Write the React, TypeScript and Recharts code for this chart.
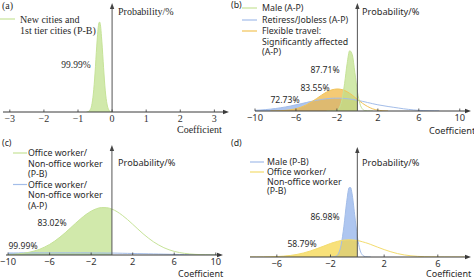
import React from "react";
import { ComposedChart, Area, Line, XAxis, YAxis, ReferenceLine } from "recharts";

// ---------- (a) New cities and 1st tier cities (P-B) ----------
const aX = [-0.75, -0.7, -0.65, -0.6, -0.55, -0.5, -0.45, -0.4, -0.37, -0.35, -0.3, -0.25, -0.2, -0.15, -0.1, -0.05, 0];
const aCities = [0, 0.004, 0.017, 0.058, 0.167, 0.36, 0.61, 0.8, 0.833, 0.82, 0.65, 0.41, 0.196, 0.074, 0.022, 0.005, 0.001];
const aTicks = [-3, -2, -1, 0, 1, 2, 3];

// ---------- (b) A-P curves ----------
const bX = [-10, -9.5, -9, -8.5, -8, -7.5, -7, -6.5, -6, -5.5, -5, -4.5, -4, -3.5, -3, -2.5,
  -2.25, -2, -1.75, -1.5, -1.25, -1, -0.75, -0.5, -0.25, 0, 0.25, 0.5, 0.75, 1, 1.25, 1.5,
  2, 2.5, 3, 3.5, 4, 4.5, 5, 5.5, 6, 6.5, 7, 7.5, 8];
const bMale = [null, null, null, null, null, null, null, null, null, null, null, null, null, null, 0, 0.0002,
  0.0013, 0.0078, 0.034, 0.108, 0.256, 0.443, 0.563, 0.526, 0.361, 0.182, 0.067, 0.018, 0.0036, 0.0005, 0, 0,
  null, null, null, null, null, null, null, null, null, null, null, null, null];
const bRetired = [0.0064, 0.0091, 0.0127, 0.0173, 0.023, 0.03, 0.038, 0.047, 0.058, 0.068, 0.079, 0.09, 0.1, 0.108, 0.115, 0.119,
  0.12, 0.12, 0.12, 0.119, 0.117, 0.115, 0.112, 0.108, 0.104, 0.1, 0.095, 0.09, 0.085, 0.079, 0.074, 0.068,
  0.058, 0.05, 0.042, 0.035, 0.028, 0.021, 0.015, 0.01, 0.006, 0.004, 0.0025, 0.0015, 0.001];
const bFlexible = [null, null, null, 0.0005, 0.0013, 0.0029, 0.006, 0.0117, 0.021, 0.036, 0.057, 0.084, 0.115, 0.148, 0.177, 0.198,
  0.203, 0.206, 0.205, 0.2, 0.192, 0.18, 0.165, 0.148, 0.128, 0.108, 0.09, 0.072, 0.056, 0.042, 0.03, 0.02,
  0.008, 0.002, 0, null, null, null, null, null, null, null, null, null, null];
const wideTicks = [-10, -6, -2, 2, 6, 10];

// ---------- (c) Office worker / Non-office worker ----------
const cX = [-10, -9.5, -9, -8.5, -8, -7.5, -7, -6.5, -6, -5.5, -5, -4.5, -4, -3.5, -3, -2.5, -2, -1.5, -1, -0.5,
  0, 0.5, 1, 1.5, 2, 2.5, 3, 3.5, 4, 4.5, 5, 5.5, 6, 6.5, 7, 7.5, 8, 8.5, 9, 9.5, 10];
const cOfficePB = [0.004, 0.0065, 0.0104, 0.016, 0.0245, 0.036, 0.051, 0.072, 0.097, 0.128, 0.164, 0.204, 0.247, 0.291, 0.333, 0.371, 0.402, 0.424, 0.435, 0.434,
  0.421, 0.397, 0.364, 0.325, 0.282, 0.238, 0.195, 0.156, 0.121, 0.092, 0.067, 0.048, 0.033, 0.0226, 0.015, 0.0095, 0.006, 0.0036, 0.002, 0.0012, 0.0006];
const cOfficeAP = [0.019, 0.019, 0.019, 0.02, 0.02, 0.02, 0.02, 0.02, 0.02, 0.02, 0.02, 0.02, 0.02, 0.02, 0.02, 0.02, 0.019, 0.019, 0.019, 0.018,
  0.018, 0.017, 0.016, 0.015, 0.014, 0.013, 0.012, 0.011, 0.01, 0.009, 0.008, 0.007, 0.006, 0.005, 0.004, 0.003, 0.002, 0.002, 0.001, 0.001, 0.001];

// ---------- (d) P-B curves ----------
const dX = [-8, -7.5, -7, -6.5, -6, -5.5, -5, -4.5, -4, -3.5, -3, -2.5, -2,
  -1.8, -1.6, -1.5, -1.4, -1.2, -1, -0.8, -0.6, -0.5, -0.4, -0.2, 0,
  0.2, 0.4, 0.6, 0.8, 1, 1.5, 2, 2.5, 3, 3.5, 4, 4.5, 5, 5.5, 6, 6.5, 7, 7.5, 8];
const dMale = [null, null, null, null, null, null, null, null, null, null, null, null, 0.0001,
  0.0011, 0.0071, 0.016, 0.034, 0.115, 0.281, 0.498, 0.637, 0.637, 0.586, 0.39, 0.187,
  0.064, 0.016, 0.0029, 0.0004, 0, null, null, null, null, null, null, null, null, null, null, null, null, null, null];
const dOffice = [0.0002, 0.0004, 0.0009, 0.002, 0.0041, 0.0079, 0.014, 0.0236, 0.0373, 0.0553, 0.077, 0.1, 0.124,
  0.132, 0.139, 0.143, 0.146, 0.151, 0.155, 0.157, 0.158, 0.158, 0.157, 0.155, 0.151,
  0.146, 0.139, 0.132, 0.124, 0.115, 0.091, 0.068, 0.048, 0.031, 0.019, 0.011, 0.006, 0.003, 0.0015, 0.0007, 0.0003, 0.0001, 0, 0];
const dTicks = [-6, -2, 2, 6];

// ---------- colours ----------
const GREEN = { fill: "#bfe08a", line: "#c6e398" };
const BLUE = { fill: "#8fb0ea", line: "#a3bde9" };
const ORANGE = { fill: "#f1b63e", line: "#f2c458" };
const YELLOW = { fill: "#f5d546", line: "#f3dc6e" };
const AXIS = "#3a3a3a";

const SERIF = "'Liberation Serif', 'DejaVu Serif', serif";
const SANS = "'Noto Sans', sans-serif";

// one row per x, with a copy of each curve cut at zero for the shaded (negative) part
type Curves = Record<string, (number | null)[]>;
function buildRows(xs: number[], curves: Curves) {
  return xs.map((x, i) => {
    const row: Record<string, number | null> = { x };
    Object.keys(curves).forEach((k) => {
      const v = curves[k][i];
      row[k] = v;
      row[k + "Neg"] = x <= 0 ? v : null;
    });
    return row;
  });
}

const rowsA = buildRows(aX, { cities: aCities });
const rowsB = buildRows(bX, { male: bMale, retired: bRetired, flexible: bFlexible });
const rowsC = buildRows(cX, { pb: cOfficePB, ap: cOfficeAP });
const rowsD = buildRows(dX, { male: dMale, office: dOffice });

const fmt = (v: number) => (v < 0 ? `\u2212${Math.abs(v)}` : `${v}`);

const makeTick = (font: string, size: number) => (props: any) => {
  const { x, y, payload } = props;
  return (
    <g>
      <line x1={x} y1={y - 2.5} x2={x} y2={y} stroke={AXIS} strokeWidth={0.8} />
      <text x={x} y={y + 10} textAnchor="middle" fontFamily={font} fontSize={size} fill="#333">
        {fmt(payload.value)}
      </text>
    </g>
  );
};

const HArrow = (p: any) => {
  const xs = Math.min(p.x1, p.x2);
  const xe = Math.max(p.x1, p.x2);
  const y = p.y1;
  return (
    <g>
      <line x1={xs} y1={y} x2={xe - 2} y2={y} stroke={AXIS} strokeWidth={1} />
      <path d={`M${xe + 1},${y} L${xe - 5},${y - 2.2} L${xe - 5},${y + 2.2} Z`} fill={AXIS} />
    </g>
  );
};

const VArrow = (p: any) => {
  const yt = Math.min(p.y1, p.y2);
  const yb = Math.max(p.y1, p.y2);
  const x = p.x1;
  return (
    <g>
      <line x1={x} y1={yt + 2} x2={x} y2={yb} stroke="#555" strokeWidth={1} />
      <path d={`M${x},${yt - 1} L${x - 2.2},${yt + 5} L${x + 2.2},${yt + 5} Z`} fill="#444" />
    </g>
  );
};

type Series = { key: string; color: { fill: string; line: string } };

function Panel(props: {
  left: number; top: number; height: number; rows: any[]; domain: [number, number];
  ticks: number[]; margin: { top: number; right: number; bottom: number; left: number };
  axisHeight: number; series: Series[]; font: string; tickSize: number;
}) {
  const { left, top, height, rows, domain, ticks, margin, axisHeight, series, font, tickSize } = props;
  return (
    <div style={{ position: "absolute", left, top }}>
      <ComposedChart width={237} height={height} data={rows} margin={margin}>
        <XAxis
          type="number"
          dataKey="x"
          domain={domain}
          ticks={ticks}
          interval={0}
          allowDataOverflow
          axisLine={false}
          tickLine={false}
          tickSize={0}
          tickMargin={0}
          height={axisHeight}
          tick={makeTick(font, tickSize)}
        />
        <YAxis hide domain={[0, 1]} allowDataOverflow />
        {series.map((s) => (
          <Area
            key={s.key + "Neg"}
            type="monotone"
            dataKey={s.key + "Neg"}
            stroke="none"
            fill={s.color.fill}
            fillOpacity={0.72}
            isAnimationActive={false}
            dot={false}
            activeDot={false}
          />
        ))}
        {series.map((s) => (
          <Line
            key={s.key}
            type="monotone"
            dataKey={s.key}
            stroke={s.color.line}
            strokeWidth={1}
            dot={false}
            activeDot={false}
            isAnimationActive={false}
          />
        ))}
        <ReferenceLine y={0} shape={HArrow} />
        <ReferenceLine x={0} shape={VArrow} />
      </ComposedChart>
    </div>
  );
}

function T(p: { x: number; y: number; s: string; font?: string; size?: number; anchor?: "start" | "middle" | "end" }) {
  return (
    <text
      x={p.x}
      y={p.y}
      dominantBaseline="central"
      textAnchor={p.anchor ?? "start"}
      fontFamily={p.font ?? SANS}
      fontSize={p.size ?? 8.8}
      fill="#2a2a2a"
    >
      {p.s}
    </text>
  );
}

function Key(p: { x1: number; x2: number; y: number; color: string }) {
  return <line x1={p.x1} x2={p.x2} y1={p.y} y2={p.y} stroke={p.color} strokeWidth={1.2} />;
}

export default function App() {
  return (
    <div style={{ position: "absolute", left: 0, top: 0, width: 474, height: 277, background: "#fff", overflow: "hidden" }}>
      <Panel
        left={0} top={0} height={138} rows={rowsA} domain={[-3.2, 3.4]} ticks={aTicks}
        margin={{ top: 4, right: 9, bottom: 0, left: 3 }} axisHeight={26}
        series={[{ key: "cities", color: GREEN }]} font={SERIF} tickSize={10}
      />
      <Panel
        left={237} top={0} height={138} rows={rowsB} domain={[-10, 11]} ticks={wideTicks}
        margin={{ top: 4, right: 4, bottom: 0, left: 18 }} axisHeight={27}
        series={[
          { key: "retired", color: BLUE },
          { key: "flexible", color: ORANGE },
          { key: "male", color: GREEN },
        ]}
        font={SANS} tickSize={9.3}
      />
      <Panel
        left={0} top={138} height={139} rows={rowsC} domain={[-10.2, 10.6]} ticks={wideTicks}
        margin={{ top: 8, right: 15, bottom: 0, left: 6 }} axisHeight={22}
        series={[
          { key: "ap", color: BLUE },
          { key: "pb", color: GREEN },
        ]}
        font={SANS} tickSize={9.3}
      />
      <Panel
        left={237} top={138} height={139} rows={rowsD} domain={[-8, 8.4]} ticks={dTicks}
        margin={{ top: 10, right: 4, bottom: 0, left: 13 }} axisHeight={20}
        series={[
          { key: "male", color: BLUE },
          { key: "office", color: YELLOW },
        ]}
        font={SANS} tickSize={9.3}
      />

      <svg width={474} height={277} style={{ position: "absolute", left: 0, top: 0, pointerEvents: "none" }}>
        {/* (a) */}
        <T x={2} y={5} s="(a)" font={SERIF} size={10} />
        <Key x1={0} x2={15} y={19} color={GREEN.line} />
        <T x={20} y={19} s="New cities and" font={SERIF} size={10} />
        <T x={20} y={30} s="1st tier cities (P-B)" font={SERIF} size={10} />
        <T x={118} y={11} s="Probability/%" font={SERIF} size={10} />
        <T x={76} y={65} s="99.99%" font={SERIF} size={9.5} anchor="middle" />
        <T x={177} y={129} s="Coefficient" font={SERIF} size={10} />

        {/* (b) */}
        <T x={231} y={5} s="(b)" />
        <Key x1={242} x2={257} y={8} color={GREEN.line} />
        <Key x1={242} x2={257} y={20} color={BLUE.line} />
        <Key x1={242} x2={257} y={31} color={ORANGE.line} />
        <T x={262} y={8} s="Male (A-P)" />
        <T x={262} y={20} s="Retiress/Jobless (A-P)" />
        <T x={262} y={31} s="Flexible travel:" />
        <T x={262} y={41.5} s="Significantly affected" />
        <T x={262} y={52} s="(A-P)" />
        <T x={362} y={11} s="Probability/%" size={9.2} />
        <T x={325} y={70} s="87.71%" size={8.6} anchor="middle" />
        <T x={315} y={88} s="83.55%" size={8.6} anchor="middle" />
        <T x={285} y={100} s="72.73%" size={8.6} anchor="middle" />
        <T x={429} y={130} s="Coefficient" size={9.2} />

        {/* (c) */}
        <T x={2} y={143} s="(c)" />
        <Key x1={13} x2={27} y={153} color={GREEN.line} />
        <T x={28} y={153} s="Office worker/" />
        <T x={28} y={163.5} s="Non-office worker" />
        <T x={28} y={174} s="(P-B)" />
        <Key x1={13} x2={27} y={184.5} color={BLUE.line} />
        <T x={28} y={184.5} s="Office worker/" />
        <T x={28} y={195} s="Non-office worker" />
        <T x={28} y={205.5} s="(A-P)" />
        <T x={118} y={162} s="Probability/%" size={9.2} />
        <T x={52} y={223} s="83.02%" size={8.6} anchor="middle" />
        <T x={23} y={246} s="99.99%" size={8.6} anchor="middle" />
        <T x={178} y={273.5} s="Coefficient" size={9} />

        {/* (d) */}
        <T x={231} y={143} s="(d)" />
        <Key x1={250} x2={264} y={162} color={BLUE.line} />
        <Key x1={250} x2={264} y={172} color={YELLOW.line} />
        <T x={267} y={162} s="Male (P-B)" />
        <T x={267} y={172} s="Office worker/" />
        <T x={267} y={181.5} s="Non-office worker" />
        <T x={267} y={191} s="(P-B)" />
        <T x={362} y={162} s="Probability/%" size={9.2} />
        <T x={325} y={217} s="86.98%" size={8.6} anchor="middle" />
        <T x={302} y={244} s="58.79%" size={8.6} anchor="middle" />
        <T x={426} y={273.5} s="Coefficient" size={9} />
      </svg>
    </div>
  );
}
